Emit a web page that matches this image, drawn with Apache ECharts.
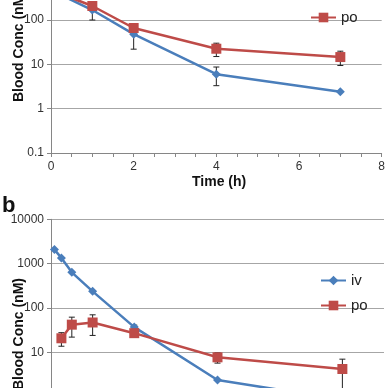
<!DOCTYPE html>
<html>
<head>
<meta charset="utf-8">
<script src="https://cdn.jsdelivr.net/npm/echarts@6/dist/echarts.min.js"></script>
<style>
html,body{margin:0;padding:0;background:#fff;overflow:hidden;width:388px;height:388px;}
#c{position:absolute;left:0;top:-40px;width:388px;height:500px;}
</style>
</head>
<body>
<div id="c"></div>
<script>
// Panel a
var timeA_iv = [0.25, 1, 2, 4, 7];
var ivA = [366, 168, 48, 6.0, 2.4];
var ivA_err = [0, 68, 26, 2.7, 0];
var timeA_po = [0.25, 1, 2, 4, 7];
var poA = [386, 207, 66, 22.5, 14.6];
var poA_err = [0, 0, 0, 7.5, 5.2];
// Panel b
var timeB_iv = [0.083, 0.25, 0.5, 1, 2, 4, 7];
var ivB = [2070, 1345, 637, 237, 37, 2.37, 0.85];
var ivB_err = [0, 0, 0, 0, 4, 0, 0];
var timeB_po = [0.25, 0.5, 1, 2, 4, 7];
var poB = [20.7, 42, 47, 27, 7.7, 4.2];
var poB_err = [7, 20, 23, 3, 2, 2.8];

var seriesNames = ['iv', 'po'];

var BLUE = '#4A7EBB', RED = '#BE4B48';
var FONT = 'Liberation Sans';
var OFF = 40; // container is shifted up by this many pixels

function pairs(t, v) { return t.map(function (x, i) { return [x, v[i]]; }); }
function triples(t, v, e) { return t.map(function (x, i) { return [x, v[i], e[i]]; }); }

function errRender(params, api) {
  var x = api.value(0), y = api.value(1), e = api.value(2);
  if (!e) return null;
  var hi = api.coord([x, y + e]);
  var lo = api.coord([x, Math.max(y - e, 1e-6)]);
  var st = { stroke: '#222', lineWidth: 1 };
  var w = 3;
  return {
    type: 'group',
    children: [
      { type: 'line', shape: { x1: hi[0], y1: hi[1], x2: lo[0], y2: lo[1] }, style: st },
      { type: 'line', shape: { x1: hi[0] - w, y1: hi[1], x2: hi[0] + w, y2: hi[1] }, style: st },
      { type: 'line', shape: { x1: lo[0] - w, y1: lo[1], x2: lo[0] + w, y2: lo[1] }, style: st }
    ]
  };
}

function xAxis(gi, showLabels) {
  return {
    type: 'value', gridIndex: gi, min: 0, max: 8, interval: 2,
    axisLine: { lineStyle: { color: '#868686', width: 1 } },
    axisTick: { show: true, length: 4, lineStyle: { color: '#868686' } },
    minorTick: { show: true, splitNumber: 4, length: 4, lineStyle: { color: '#868686' } },
    splitLine: { show: false },
    axisLabel: { show: showLabels, color: '#333', fontFamily: FONT, fontSize: 12, margin: 8 }
  };
}
function yAxis(gi, min, max) {
  return {
    type: 'log', logBase: 10, gridIndex: gi, min: min, max: max,
    axisLine: { show: true, lineStyle: { color: '#868686', width: 1 } },
    axisTick: { show: true, length: 4, lineStyle: { color: '#868686' } },
    splitLine: { show: true, lineStyle: { color: '#A6A6A6', width: 1 } },
    minorTick: { show: false }, minorSplitLine: { show: false },
    axisLabel: { color: '#333', fontFamily: FONT, fontSize: 12, margin: 7,
      formatter: function (v) { return String(+v.toPrecision(6)); } }
  };
}
function lineSeries(name, gi, data, color, symbol, size) {
  return {
    name: name, type: 'line', xAxisIndex: gi, yAxisIndex: gi, data: data,
    symbol: symbol, symbolSize: size, showSymbol: true,
    lineStyle: { color: color, width: 2.5 },
    itemStyle: { color: color },
    z: 3, animation: false, clip: true
  };
}
function errSeries(gi, data) {
  return {
    type: 'custom', xAxisIndex: gi, yAxisIndex: gi, data: data,
    renderItem: errRender, z: 2, animation: false, silent: true, clip: true
  };
}

var chart = echarts.init(document.getElementById('c'), null, { renderer: 'canvas' });
var dec = 44.33;
chart.setOption({
  animation: false,
  backgroundColor: '#fff',
  grid: [
    { left: 51, width: 333, top: OFF + 153 - 4 * dec, height: 4 * dec },
    { left: 51, width: 333, top: OFF + 219.3, height: 5 * dec }
  ],
  xAxis: [xAxis(0, true), xAxis(1, false)],
  yAxis: [yAxis(0, 0.1, 1000), yAxis(1, 0.1, 10000)],
  legend: [
    { orient: 'vertical', left: 305, top: OFF - 20, itemWidth: 25, itemHeight: 12, itemGap: 10,
      data: seriesNames, textStyle: { color: '#222', fontFamily: FONT, fontSize: 15 } },
    { orient: 'vertical', left: 315, top: OFF + 268, itemWidth: 25, itemHeight: 12, itemGap: 10,
      data: seriesNames, textStyle: { color: '#222', fontFamily: FONT, fontSize: 15 } }
  ],
  graphic: [
    { type: 'text', left: 192, top: OFF + 175, style: { text: 'Time (h)', font: 'bold 14px "Liberation Sans"', fill: '#111' } },
    { type: 'text', x: 19, y: OFF + 46, rotation: Math.PI / 2, style: { text: 'Blood Conc (nM)', font: 'bold 14px "Liberation Sans"', fill: '#111', align: 'center', verticalAlign: 'middle' } },
    { type: 'text', x: 19, y: OFF + 334, rotation: Math.PI / 2, style: { text: 'Blood Conc (nM)', font: 'bold 14px "Liberation Sans"', fill: '#111', align: 'center', verticalAlign: 'middle' } },
    { type: 'text', left: 2, top: OFF + 195, style: { text: 'b', font: 'bold 22px "Liberation Sans"', fill: '#111' } }
  ],
  series: [
    errSeries(0, triples(timeA_iv, ivA, ivA_err)),
    errSeries(0, triples(timeA_po, poA, poA_err)),
    lineSeries('iv', 0, pairs(timeA_iv, ivA), BLUE, 'diamond', 9),
    lineSeries('po', 0, pairs(timeA_po, poA), RED, 'rect', 10),
    errSeries(1, triples(timeB_iv, ivB, ivB_err)),
    errSeries(1, triples(timeB_po, poB, poB_err)),
    lineSeries('iv', 1, pairs(timeB_iv, ivB), BLUE, 'diamond', 9),
    lineSeries('po', 1, pairs(timeB_po, poB), RED, 'rect', 10)
  ]
});
</script>
</body>
</html>
